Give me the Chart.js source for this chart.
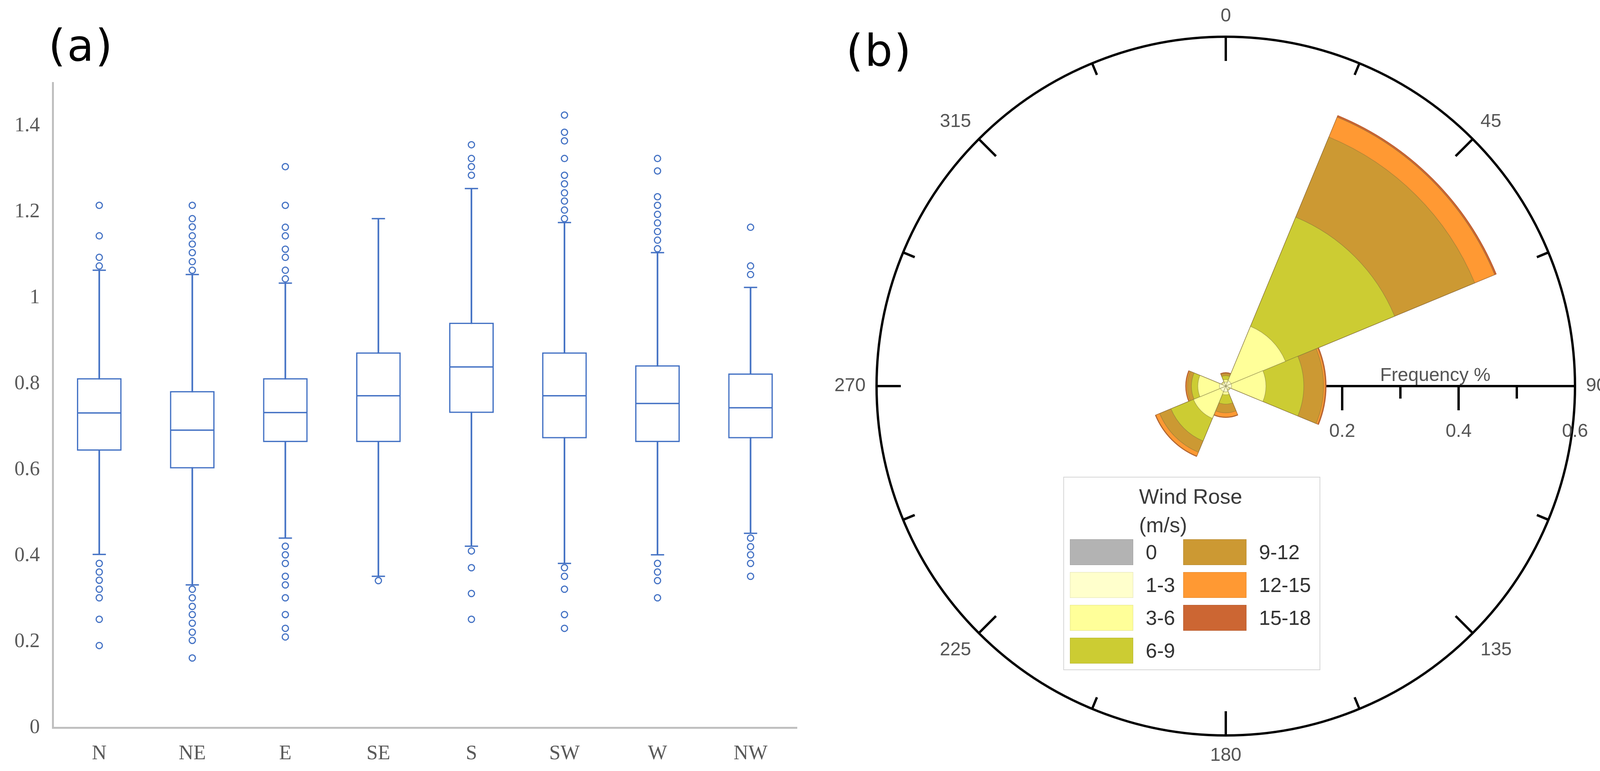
<!DOCTYPE html>
<html>
<head>
<meta charset="utf-8">
<script src="https://cdn.jsdelivr.net/npm/chart.js@4.4.1/dist/chart.umd.min.js"></script>
<style>
  body { margin: 0; width: 4128px; height: 1973px; background: #fff; position: relative; overflow: hidden; }
  .panel { position: absolute; }
  .tag { position: absolute; font-family: "DejaVu Sans", sans-serif; font-size: 112px; line-height: 1; letter-spacing: 4px; color: #000; }
  #roseLegend { position: absolute; left: 2722px; top: 1220px; width: 658px; height: 495px; box-sizing: border-box;
                border: 2px solid #d6d6d6; background: #fff; font-family: "Liberation Sans", Arial, sans-serif; color: #333; }
  #roseLegend .title { position: absolute; left: 192px; top: 12px; font-size: 54px; line-height: 73px; color: #3a3a3a; }
  #roseLegend .sw { position: absolute; width: 162px; height: 66px; box-sizing: border-box; border: 1px solid rgba(0,0,0,0.12); }
  #roseLegend .lab { position: absolute; font-size: 52px; line-height: 66px; }
</style>
</head>
<body>
<div class="tag" style="left:124px;top:60px">(a)</div>
<div class="tag" style="left:2166px;top:73px">(b)</div>
<div class="panel" style="left:0;top:0;width:2100px;height:1973px"><canvas id="boxChart"></canvas></div>
<div class="panel" style="left:2100px;top:0;width:2028px;height:1973px"><canvas id="roseChart"></canvas></div>
<div id="roseLegend"></div>
<script>
// ---- (a) box plot values ----
const directions = ['N', 'NE', 'E', 'SE', 'S', 'SW', 'W', 'NW'];
const whiskerLow  = [0.403, 0.332, 0.441, 0.352, 0.422, 0.382, 0.402, 0.452];
const q1          = [0.644, 0.603, 0.664, 0.664, 0.732, 0.673, 0.664, 0.673];
const median      = [0.732, 0.692, 0.733, 0.772, 0.839, 0.772, 0.754, 0.744];
const q3          = [0.813, 0.783, 0.813, 0.873, 0.942, 0.873, 0.843, 0.824];
const whiskerHigh = [1.064, 1.054, 1.034, 1.184, 1.254, 1.175, 1.105, 1.024];
const outlierValues = [
  [1.215, 1.144, 1.094, 1.074, 0.382, 0.362, 0.343, 0.322, 0.302, 0.252, 0.191],
  [1.215, 1.184, 1.165, 1.144, 1.125, 1.105, 1.084, 1.064, 0.322, 0.302, 0.282, 0.263, 0.243, 0.222, 0.203, 0.162],
  [1.305, 1.215, 1.164, 1.144, 1.113, 1.094, 1.064, 1.044, 0.422, 0.402, 0.382, 0.352, 0.332, 0.302, 0.263, 0.231, 0.211],
  [0.342],
  [1.356, 1.324, 1.305, 1.285, 0.411, 0.372, 0.312, 0.252],
  [1.425, 1.385, 1.365, 1.324, 1.285, 1.265, 1.244, 1.225, 1.204, 1.184, 0.372, 0.352, 0.322, 0.263, 0.231],
  [1.324, 1.295, 1.235, 1.215, 1.194, 1.174, 1.154, 1.134, 1.114, 0.382, 0.362, 0.342, 0.302],
  [1.164, 1.074, 1.054, 0.441, 0.421, 0.402, 0.382, 0.352]
];

// ---- (b) wind rose: frequency % per speed band, per direction (N, NE, E, SE, S, SW, W, NW) ----
const roseDirections = ['0', '45', '90', '135', '180', '225', '270', '315'];
const bandLabels = ['0', '1-3', '3-6', '6-9', '9-12', '12-15', '15-18'];
const bandColors = ['#b3b3b3', '#ffffcc', '#ffff99', '#cccc33', '#cc9933', '#ff9933', '#cc6633'];
const calm      = [0, 0, 0, 0, 0, 0, 0, 0];
const band1_3   = [0.007, 0.010, 0.010, 0.006, 0.010, 0.010, 0.011, 0.006];
const band3_6   = [0.004, 0.101, 0.059, 0.002, 0.005, 0.050, 0.037, 0.002];
const band6_9   = [0.007, 0.203, 0.065, 0, 0.016, 0.042, 0.011, 0];
const band9_12  = [0.0035, 0.149, 0.034, 0, 0.015, 0.021, 0.007, 0];
const band12_15 = [0.001, 0.037, 0.003, 0, 0.007, 0.007, 0.002, 0];
const band15_18 = [0.0008, 0.003, 0.0015, 0, 0.001, 0.001, 0.001, 0];
const freqMax = 0.6;
const freqTicks = [0.1, 0.2, 0.3, 0.4, 0.5];
const freqLabels = [0.2, 0.4, 0.6];

const blue = '#4472C4';
const serif = { family: '"Liberation Serif", serif', size: 52 };

const outlierPoints = directions.flatMap((d, i) => outlierValues[i].map(v => ({ x: d, y: v })));
const capPoints = directions.flatMap((d, i) => [{ x: d, y: whiskerLow[i] }, { x: d, y: whiskerHigh[i] }]);

new Chart(document.getElementById('boxChart'), {
  type: 'bar',
  data: {
    labels: directions,
    datasets: [
      { type: 'line', data: outlierPoints, showLine: false, pointStyle: 'circle', pointRadius: 8,
        pointBorderWidth: 3, pointBorderColor: blue, pointBackgroundColor: 'rgba(0,0,0,0)', order: 0 },
      { type: 'line', data: median, showLine: false, pointStyle: 'line', pointRadius: 56,
        pointBorderWidth: 3.5, pointBorderColor: blue, order: 1 },
      { type: 'line', data: capPoints, showLine: false, pointStyle: 'line', pointRadius: 17,
        pointBorderWidth: 3.5, pointBorderColor: blue, order: 2 },
      { data: directions.map((d, i) => [q1[i], q3[i]]), backgroundColor: '#fff', borderColor: blue,
        borderWidth: 3.5, borderSkipped: false, grouped: false, categoryPercentage: 0.5, barPercentage: 0.96, order: 3 },
      { data: directions.map((d, i) => [whiskerLow[i], whiskerHigh[i]]), backgroundColor: blue,
        barThickness: 3.5, grouped: false, order: 4 }
    ]
  },
  options: {
    animation: false,
    events: [],
    responsive: true,
    maintainAspectRatio: false,
    layout: { padding: { top: 212, right: 48, bottom: 0, left: 0 } },
    plugins: { legend: { display: false }, tooltip: { enabled: false } },
    scales: {
      x: {
        grid: { display: false, drawTicks: false },
        border: { color: '#bfbfbf', width: 5 },
        ticks: { font: serif, color: '#595959', padding: 36 },
        afterFit: s => { s.height = 111; }
      },
      y: {
        min: 0, max: 1.5,
        grid: { display: false, drawTicks: false },
        border: { color: '#bfbfbf', width: 5 },
        ticks: {
          stepSize: 0.2, font: serif, color: '#595959', padding: 33,
          callback: v => (Math.abs(v * 5 - Math.round(v * 5)) < 1e-6 ? String(Math.round(v * 10) / 10) : null)
        },
        afterFit: s => { s.width = 135; }
      }
    }
  }
});

// stack the speed bands so each ring starts where the previous one ends
const bands = [calm, band1_3, band3_6, band6_9, band9_12, band12_15, band15_18];
let running = roseDirections.map(() => 0);
const roseDatasets = bands.map((vals, k) => {
  running = running.map((s, i) => s + vals[i]);
  return {
    label: bandLabels[k],
    data: running.slice(),
    backgroundColor: bandColors[k],
    borderColor: k === 6 ? '#b85a2c' : 'rgba(110,105,60,0.45)',
    borderWidth: k === 0 ? 0 : 1.5
  };
});

// compass ring ticks, direction labels and the frequency axis, drawn under the sectors
const roseFrame = {
  id: 'roseFrame',
  beforeDatasetsDraw(chart) {
    const r = chart.scales.r;
    const ctx = chart.ctx;
    const cx = r.xCenter, cy = r.yCenter, R = r.getDistanceFromCenterForValue(freqMax);
    ctx.save();
    ctx.strokeStyle = '#000';
    ctx.lineWidth = 6;
    for (let k = 0; k < 16; k++) {
      const a = k * Math.PI / 8;
      const len = k % 2 === 0 ? 62 : 32;
      const sx = Math.sin(a), sy = -Math.cos(a);
      ctx.beginPath();
      ctx.moveTo(cx + sx * R, cy + sy * R);
      ctx.lineTo(cx + sx * (R - len), cy + sy * (R - len));
      ctx.stroke();
    }
    ctx.beginPath();
    ctx.moveTo(cx, cy);
    ctx.lineTo(cx + R, cy);
    ctx.stroke();
    freqTicks.forEach(v => {
      const x = cx + r.getDistanceFromCenterForValue(v);
      const major = Math.abs(v * 5 - Math.round(v * 5)) < 1e-6;
      ctx.beginPath();
      ctx.moveTo(x, cy);
      ctx.lineTo(x, cy + (major ? 62 : 32));
      ctx.stroke();
    });
    ctx.fillStyle = '#555';
    ctx.font = '48px "Liberation Sans", Arial, sans-serif';
    ctx.textAlign = 'center';
    ctx.textBaseline = 'middle';
    freqLabels.forEach(v => {
      ctx.fillText(String(v), cx + r.getDistanceFromCenterForValue(v), cy + 117);
    });
    ctx.textBaseline = 'alphabetic';
    ctx.fillText('Frequency %', cx + r.getDistanceFromCenterForValue(0.36), cy - 13);

    // direction labels centred on each sector, placed like Chart.js point labels
    const n = chart.data.labels.length;
    chart.data.labels.forEach((lab, i) => {
      const p = r.getPointPosition(i, R + 28, Math.PI / n);
      let deg = Math.round((p.angle + Math.PI / 2) * 180 / Math.PI) % 360;
      if (deg < 0) deg += 360;
      ctx.textAlign = deg === 0 || deg === 180 ? 'center' : (deg < 180 ? 'left' : 'right');
      ctx.textBaseline = deg === 90 || deg === 270 ? 'middle' : (deg < 90 || deg > 270 ? 'bottom' : 'top');
      ctx.fillText(lab, p.x, p.y);
    });
    ctx.restore();
  }
};

new Chart(document.getElementById('roseChart'), {
  type: 'polarArea',
  data: { labels: roseDirections, datasets: roseDatasets },
  options: {
    animation: false,
    events: [],
    responsive: true,
    maintainAspectRatio: false,
    layout: { padding: { top: 94, bottom: 91, left: 144, right: 96 } },
    plugins: { legend: { display: false }, tooltip: { enabled: false } },
    scales: {
      r: {
        min: 0, max: freqMax, startAngle: -22.5,
        ticks: { display: false, stepSize: 0.1 },
        grid: {
          circular: true, lineWidth: 6,
          color: c => (c.tick && c.tick.value >= freqMax - 1e-9 ? '#000' : 'rgba(0,0,0,0)')
        },
        angleLines: { display: false },
        pointLabels: { display: false }
      }
    }
  },
  plugins: [roseFrame]
});

// legend for the wind rose, two columns like the original
const legend = document.getElementById('roseLegend');
const title = document.createElement('div');
title.className = 'title';
title.innerHTML = 'Wind Rose<br>(m/s)';
legend.appendChild(title);
bandLabels.forEach((lab, k) => {
  const col = k < 4 ? 0 : 1;
  const row = k < 4 ? k : k - 4;
  const top = 158 + row * 84;
  const sw = document.createElement('div');
  sw.className = 'sw';
  sw.style.left = (15 + col * 290) + 'px';
  sw.style.top = top + 'px';
  sw.style.background = bandColors[k];
  legend.appendChild(sw);
  const t = document.createElement('div');
  t.className = 'lab';
  t.style.left = (209 + col * 290) + 'px';
  t.style.top = top + 'px';
  t.textContent = lab;
  legend.appendChild(t);
});
</script>
</body>
</html>
